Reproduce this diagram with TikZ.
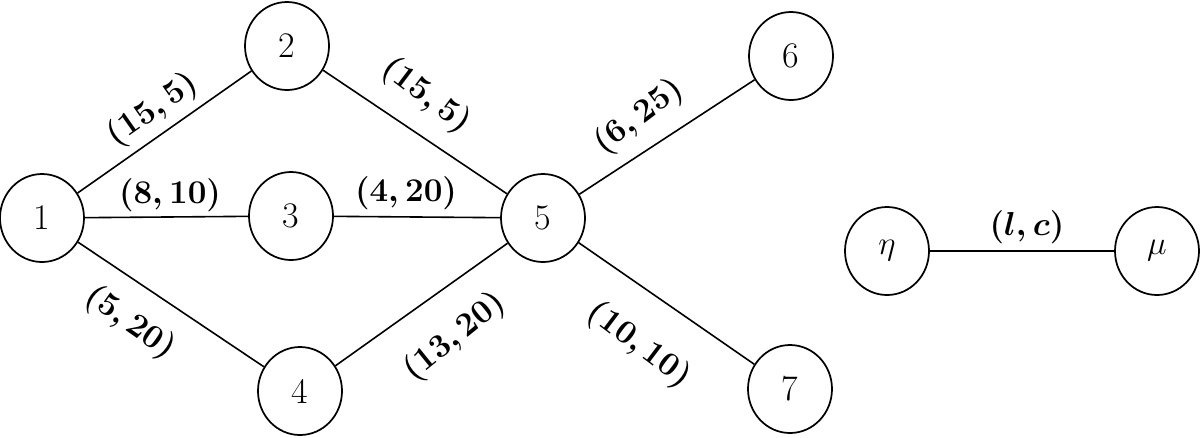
\documentclass[tikz,border=0pt]{standalone}
\usetikzlibrary{shapes.geometric}
\begin{document}
\begin{tikzpicture}[x=0.75pt,y=-0.75pt,
  vert/.style={draw, ellipse, line width=1.3pt, inner sep=0pt, minimum width=63pt, minimum height=66pt, font=\fontsize{27}{27}\selectfont},
  edge/.style={line width=1.2pt},
  lab/.style={inner sep=0pt, font=\fontsize{27}{27}\selectfont\boldmath}]
\useasboundingbox (0,0) rectangle (1200,437);
\node[vert] (n1) at (42,218) {1};
\node[vert] (n2) at (287,46) {2};
\node[vert] (n3) at (291,216) {3};
\node[vert] (n4) at (300,391) {4};
\node[vert] (n5) at (543,218) {5};
\node[vert] (n6) at (791,56) {6};
\node[vert] (n7) at (790,389) {7};
\node[vert] (eta) at (887,251) {$\eta$};
\node[vert] (mu) at (1157,251) {$\mu$};
\draw[edge] (n1) -- (n2);
\draw[edge] (n1) -- (n3);
\draw[edge] (n1) -- (n4);
\draw[edge] (n2) -- (n5);
\draw[edge] (n3) -- (n5);
\draw[edge] (n4) -- (n5);
\draw[edge] (n5) -- (n6);
\draw[edge] (n5) -- (n7);
\draw[edge] (eta) -- (mu);
\node[lab, rotate=35] (l12) at (153,110) {$(15,5)$};
\node[lab, rotate=-37] (l25) at (426,96) {$(15,5)$};
\node[lab] (l13) at (170,195) {$(8,10)$};
\node[lab] (l35) at (406,193) {$(4,20)$};
\node[lab, rotate=-35] (l14) at (130,323) {$(5,20)$};
\node[lab, rotate=39] (l45) at (455,337) {$(13,20)$};
\node[lab, rotate=37] (l56) at (639,117) {$(6,25)$};
\node[lab, rotate=-37] (l57) at (639,345) {$(10,10)$};
\node[lab] (llc) at (1027,227) {$(l,c)$};
\end{tikzpicture}
\end{document}
